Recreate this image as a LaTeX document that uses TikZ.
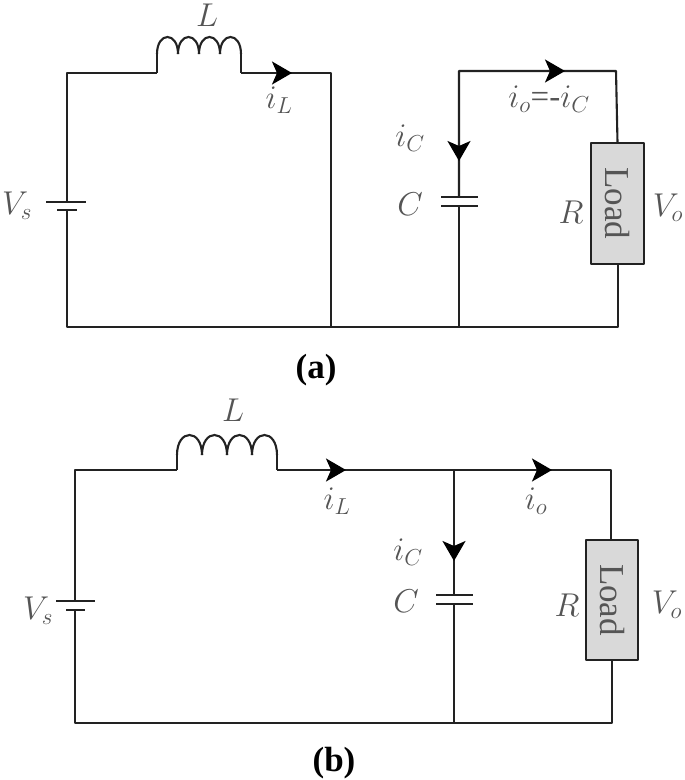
\documentclass[tikz,border=0pt]{standalone}
\usepackage{fix-cm}
\usepackage{amsmath}
\usepackage{fontspec}
\setmainfont{Liberation Serif}
\usetikzlibrary{arrows.meta}
\definecolor{wire}{HTML}{222222}
\definecolor{lbl}{HTML}{555555}
\definecolor{fillg}{HTML}{D9D9D9}
\tikzset{
	wr/.style={draw=wire, line width=2.1pt, line join=round},
	plate/.style={draw=wire, line width=2.3pt},
	flow/.style={wr, -{Stealth[length=20pt, width=23pt, inset=5pt, color=black]}},
	lab/.style={text=lbl, inner sep=0pt, font=\fontsize{33}{36}\selectfont},
	loadbox/.style={wr, fill=fillg, text=lbl, inner sep=0pt, font=\fontsize{35}{38}\selectfont},
	captag/.style={text=black, inner sep=0pt, font=\bfseries\fontsize{35}{38}\selectfont}
}
% x, hump width, wire level, top of humps, foot of humps
\newcommand{\coil}[5]{
	\pgfmathsetmacro{\ctrl}{#5-(#5-#4)*4/3}
	\draw[wr] (#1,#3) -- (#1,#5);
	\foreach \n in {0,1,2,3} {
			\pgfmathsetmacro{\xa}{#1+\n*#2}
			\pgfmathsetmacro{\xb}{#1+(\n+1)*#2}
			\draw[wr] (\xa,#5) .. controls (\xa,\ctrl) and (\xb,\ctrl) .. (\xb,#5);
		}
	\draw[wr] ({#1+4*#2},#5) -- ({#1+4*#2},#3);
}
\begin{document}
\begin{tikzpicture}[x=1pt, y=-1pt]
	\useasboundingbox (0,0) rectangle (685,780);

	% Circuit (a)
	\coordinate (aTL) at (67,73);
	\coordinate (aBL) at (67,327);
	\coordinate (aLin) at (157,73);
	\coordinate (aLout) at (241,73);
	\coordinate (aTM) at (331,73);
	\coordinate (aBM) at (331,327);
	\coordinate (aTC) at (459,71);
	\coordinate (aBC) at (459,327);
	\coordinate (aTR) at (616,71);
	\coordinate (aBR) at (618,327);
	\coordinate (aBatP) at (67,202);
	\coordinate (aBatN) at (67,210);
	\coordinate (aCapP) at (459,197);
	\coordinate (aCapN) at (459,206);

	\node[loadbox, minimum width=53pt, minimum height=121pt] (aLoad) at (617.5,203.5) {\rotatebox{-90}{Load}};

	\draw[wr] (aBatP) -- (aTL) -- (aLin);
	\coil{157}{21}{73}{37}{54}
	\draw[wr] (aLout) -- (aTM) -- (aBM);
	\draw[wr] (aBatN) -- (aBL) -- (aBR) -- (aBR |- aLoad.south);
	\draw[wr] (aBC) -- (aCapN);
	\draw[wr] (aCapP) -- (aTC) -- (aTR) -- (aLoad.north);

	% Battery and capacitor plates
	\draw[plate] ([xshift=-21pt]aBatP) -- ([xshift=19pt]aBatP);
	\draw[plate] ([xshift=-10pt]aBatN) -- ([xshift=10pt]aBatN);
	\draw[plate] ([xshift=-18pt]aCapP) -- ([xshift=19pt]aCapP);
	\draw[plate] ([xshift=-18pt]aCapN) -- ([xshift=19pt]aCapN);

	% Flow arrows
	\draw[flow] (aLout) -- (292,73);
	\draw[flow] (520,71) -- (565,71);
	\draw[flow] (459,125) -- (459,161);

	% Labels
	\node[lab] (aLabL) at (207,15) {$L$};
	\node[lab] (aLabIL) at (279,100) {$i_L$};
	\node[lab] (aLabVs) at (17,206) {$V_s$};
	\node[lab] (aLabIC) at (410,138) {$i_C$};
	\node[lab] (aLabC) at (410,204) {$C$};
	\node[lab] (aLabIO) at (549,99) {$i_o$=-$i_C$};
	\node[lab] (aLabR) at (571,212) {$R$};
	\node[lab] (aLabVo) at (668,208) {$V_o$};
	\node[captag] (aTag) at (316,370) {(a)};

	% Circuit (b)
	\coordinate (bTL) at (75,470);
	\coordinate (bBL) at (75,723);
	\coordinate (bLin) at (177,470);
	\coordinate (bLout) at (277,470);
	\coordinate (bTC) at (454,470);
	\coordinate (bBC) at (454,723);
	\coordinate (bTR) at (611,470);
	\coordinate (bBR) at (612,723);
	\coordinate (bBatP) at (75,601);
	\coordinate (bBatN) at (75,610);
	\coordinate (bCapP) at (454,595);
	\coordinate (bCapN) at (454,604);

	\node[loadbox, minimum width=52pt, minimum height=120pt] (bLoad) at (612,600) {\rotatebox{-90}{Load}};

	\draw[wr] (bBatP) -- (bTL) -- (bLin);
	\coil{177}{25}{470}{435}{455}
	\draw[wr] (bLout) -- (bTR) -- (bLoad.north -| bTR);
	\draw[wr] (bBatN) -- (bBL) -- (bBR) -- (bLoad.south -| bBR);
	\draw[wr] (bTC) -- (bCapP);
	\draw[wr] (bCapN) -- (bBC);

	% Battery and capacitor plates
	\draw[plate] ([xshift=-19pt]bBatP) -- ([xshift=20pt]bBatP);
	\draw[plate] ([xshift=-9pt]bBatN) -- ([xshift=10pt]bBatN);
	\draw[plate] ([xshift=-18pt]bCapP) -- ([xshift=19pt]bCapP);
	\draw[plate] ([xshift=-18pt]bCapN) -- ([xshift=19pt]bCapN);

	% Flow arrows
	\draw[flow] (bLout) -- (346,470);
	\draw[flow] (500,470) -- (552,470);
	\draw[flow] (bTC) -- (454,561);

	% Labels
	\node[lab] (bLabL) at (233,410) {$L$};
	\node[lab] (bLabIL) at (337,501) {$i_L$};
	\node[lab] (bLabVs) at (38,611) {$V_s$};
	\node[lab] (bLabIC) at (408,552) {$i_C$};
	\node[lab] (bLabC) at (406,601) {$C$};
	\node[lab] (bLabIO) at (536,501) {$i_o$};
	\node[lab] (bLabR) at (567,605) {$R$};
	\node[lab] (bLabVo) at (667,605) {$V_o$};
	\node[captag] (bTag) at (334,763) {(b)};
\end{tikzpicture}
\end{document}
